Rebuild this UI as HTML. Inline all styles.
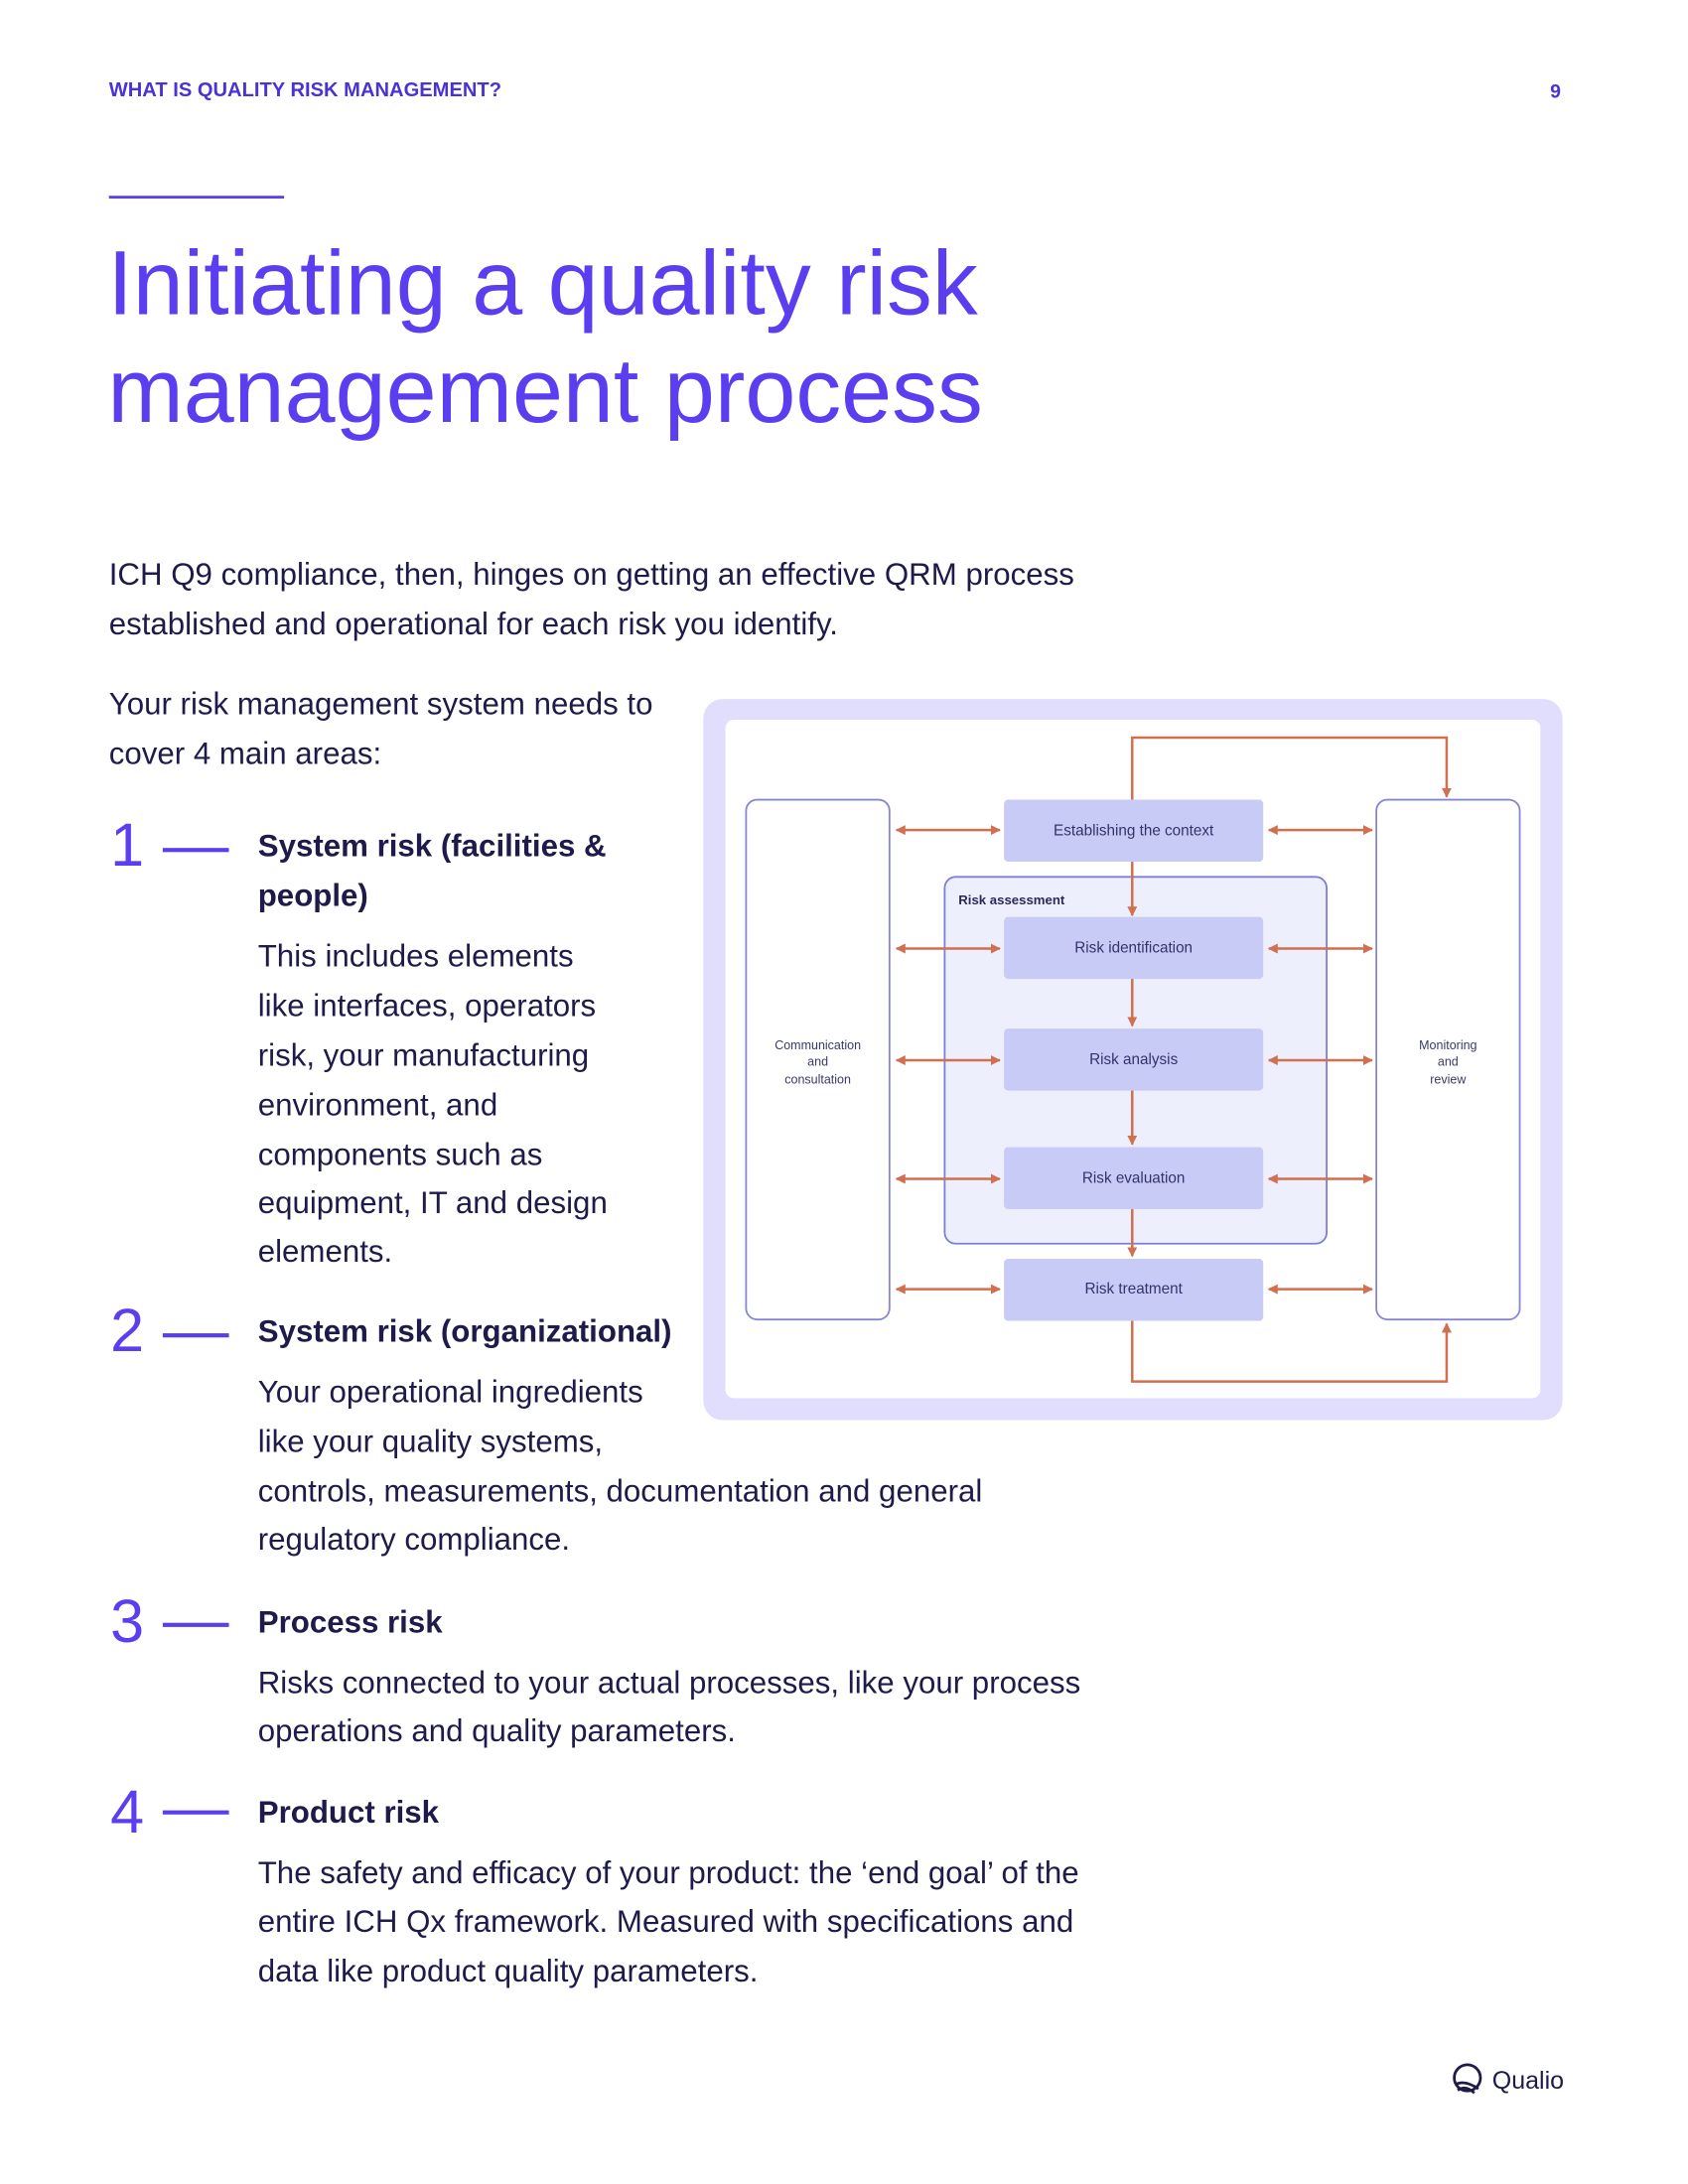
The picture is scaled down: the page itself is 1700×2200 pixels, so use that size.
<!DOCTYPE html>
<html><head><meta charset="utf-8">
<style>
html,body{margin:0;padding:0;background:#fff;}
body{width:1700px;height:2200px;overflow:hidden;position:relative;}
#p{position:absolute;left:0;top:0;width:1224px;height:1584px;transform:scale(1.38889);transform-origin:0 0;font-family:"Liberation Sans",sans-serif;color:#1e1a4a;}
.t{position:absolute;white-space:nowrap;line-height:36px;font-size:22.5px;}
.b{font-weight:bold;}
.n{position:absolute;color:#5b3ef0;font-size:44px;line-height:50px;}
.d{position:absolute;left:118px;width:48px;height:3px;background:#5b3ef0;}
</style></head><body><div id="p">
<div class="t b" style="left:79px;top:48px;font-size:14.5px;color:#4a33d6;line-height:36px;">WHAT IS QUALITY RISK MANAGEMENT?</div>
<div class="t b" style="left:1124px;top:48px;font-size:14px;color:#4a33d6;">9</div>
<div style="position:absolute;left:79px;top:142px;width:127px;height:2px;background:#5b3ef0"></div>
<div class="t" style="left:78px;top:166px;font-size:66px;line-height:78px;color:#5b3ef0;">Initiating a quality risk</div>
<div class="t" style="left:78px;top:244px;font-size:66px;line-height:78px;color:#5b3ef0;">management process</div>

<div class="t" style="left:79px;top:399px;">ICH Q9 compliance, then, hinges on getting an effective QRM process</div>
<div class="t" style="left:79px;top:435px;">established and operational for each risk you identify.</div>
<div class="t" style="left:79px;top:493px;">Your risk management system needs to</div>
<div class="t" style="left:79px;top:529px;">cover 4 main areas:</div>

<div class="n" style="left:80px;top:589px;">1</div><div class="d" style="top:615px"></div>
<div class="t b" style="left:187px;top:596px;">System risk (facilities &amp;</div>
<div class="t b" style="left:187px;top:632px;">people)</div>
<div class="t" style="left:187px;top:676px;">This includes elements</div>
<div class="t" style="left:187px;top:712px;">like interfaces, operators</div>
<div class="t" style="left:187px;top:748px;">risk, your manufacturing</div>
<div class="t" style="left:187px;top:784px;">environment, and</div>
<div class="t" style="left:187px;top:820px;">components such as</div>
<div class="t" style="left:187px;top:855px;">equipment, IT and design</div>
<div class="t" style="left:187px;top:890px;">elements.</div>

<div class="n" style="left:80px;top:941px;">2</div><div class="d" style="top:967px"></div>
<div class="t b" style="left:187px;top:948px;">System risk (organizational)</div>
<div class="t" style="left:187px;top:992px;">Your operational ingredients</div>
<div class="t" style="left:187px;top:1028px;">like your quality systems,</div>
<div class="t" style="left:187px;top:1064px;">controls, measurements, documentation and general</div>
<div class="t" style="left:187px;top:1099px;">regulatory compliance.</div>

<div class="n" style="left:80px;top:1152px;">3</div><div class="d" style="top:1177px"></div>
<div class="t b" style="left:187px;top:1159px;">Process risk</div>
<div class="t" style="left:187px;top:1203px;">Risks connected to your actual processes, like your process</div>
<div class="t" style="left:187px;top:1238px;">operations and quality parameters.</div>

<div class="n" style="left:80px;top:1290px;">4</div><div class="d" style="top:1313px"></div>
<div class="t b" style="left:187px;top:1297px;">Product risk</div>
<div class="t" style="left:187px;top:1341px;">The safety and efficacy of your product: the ‘end goal’ of the</div>
<div class="t" style="left:187px;top:1376px;">entire ICH Qx framework. Measured with specifications and</div>
<div class="t" style="left:187px;top:1412px;">data like product quality parameters.</div>

<svg style="position:absolute;left:1052px;top:1496px" width="26" height="26" viewBox="0 0 26 26"><circle cx="12" cy="11" r="9.5" fill="none" stroke="#1e1a4a" stroke-width="2"/><path d="M3 16 Q10 12 20 19 M5 20 Q11 16 17 22" fill="none" stroke="#1e1a4a" stroke-width="2"/></svg>
<div class="t" style="left:1082px;top:1491px;font-size:18px;">Qualio</div>

<svg style="position:absolute;left:0;top:0" width="1224" height="1584" viewBox="0 0 1224 1584" font-family="Liberation Sans, sans-serif">
<defs><marker id="a" viewBox="0 0 10 10" refX="9" refY="5" markerWidth="4" markerHeight="4" orient="auto-start-reverse"><path d="M0 0L10 5L0 10z" fill="#d26f4e"/></marker></defs>
<rect x="510" y="507" width="623" height="523" rx="14" fill="#e1ddfc"/>
<rect x="526" y="522" width="591" height="492" rx="6" fill="#fff"/>
<rect x="685" y="636" width="277" height="266" rx="8" fill="#eeeffc" stroke="#7c7fd2" stroke-width="1.3"/>
<text x="695" y="656" font-size="9.5" font-weight="bold" fill="#2a2a5a">Risk assessment</text>
<rect x="541" y="580" width="104" height="377" rx="8" fill="#fff" stroke="#8587d6" stroke-width="1.3"/>
<rect x="998" y="580" width="104" height="377" rx="8" fill="#fff" stroke="#8587d6" stroke-width="1.3"/>
<g font-size="9" fill="#3a3a6a" text-anchor="middle">
<text x="593" y="761">Communication</text><text x="593" y="773">and</text><text x="593" y="786">consultation</text>
<text x="1050" y="761">Monitoring</text><text x="1050" y="773">and</text><text x="1050" y="786">review</text>
</g>
<g fill="#c9cbf7">
<rect x="728" y="580" width="188" height="45" rx="3"/>
<rect x="728" y="665" width="188" height="45" rx="3"/>
<rect x="728" y="746" width="188" height="45" rx="3"/>
<rect x="728" y="832" width="188" height="45" rx="3"/>
<rect x="728" y="913" width="188" height="45" rx="3"/>
</g>
<g font-size="11" fill="#33336a" text-anchor="middle">
<text x="822" y="606">Establishing the context</text>
<text x="822" y="691">Risk identification</text>
<text x="822" y="772">Risk analysis</text>
<text x="822" y="858">Risk evaluation</text>
<text x="822" y="938">Risk treatment</text>
</g>
<g stroke="#d26f4e" stroke-width="1.8" fill="none">
<path d="M821 580V535H1049V578" marker-end="url(#a)"/>
<path d="M821 958V1002H1049V960" marker-end="url(#a)"/>
<path d="M821 625V664" marker-end="url(#a)"/>
<path d="M821 710V744" marker-end="url(#a)"/>
<path d="M821 791V830" marker-end="url(#a)"/>
<path d="M821 877V911" marker-end="url(#a)"/>
<path d="M650 602H725" marker-start="url(#a)" marker-end="url(#a)"/>
<path d="M650 688H725" marker-start="url(#a)" marker-end="url(#a)"/>
<path d="M650 769H725" marker-start="url(#a)" marker-end="url(#a)"/>
<path d="M650 855H725" marker-start="url(#a)" marker-end="url(#a)"/>
<path d="M650 935H725" marker-start="url(#a)" marker-end="url(#a)"/>
<path d="M920 602H995" marker-start="url(#a)" marker-end="url(#a)"/>
<path d="M920 688H995" marker-start="url(#a)" marker-end="url(#a)"/>
<path d="M920 769H995" marker-start="url(#a)" marker-end="url(#a)"/>
<path d="M920 855H995" marker-start="url(#a)" marker-end="url(#a)"/>
<path d="M920 935H995" marker-start="url(#a)" marker-end="url(#a)"/>
</g>
</svg>
</div></body></html>
